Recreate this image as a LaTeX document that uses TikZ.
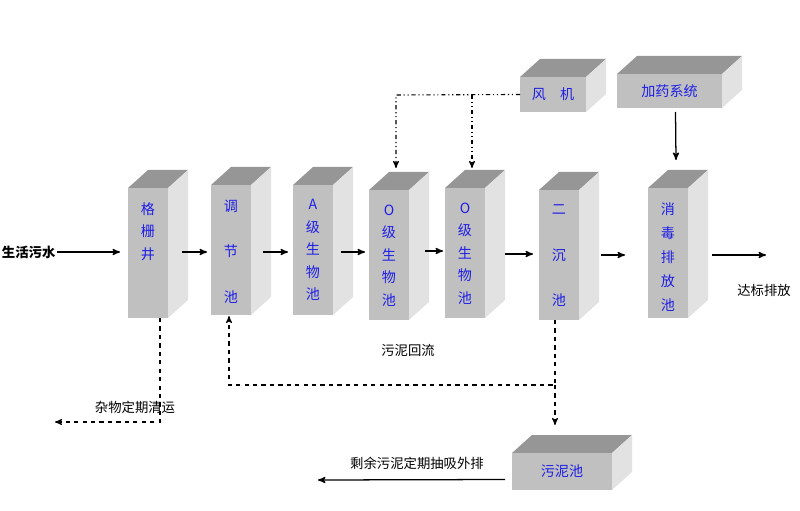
\documentclass[tikz,border=0pt]{standalone}
\usepackage{fontspec}
\newfontfamily\cjk{Noto Sans CJK SC}
\usetikzlibrary{arrows,positioning,calc}
\definecolor{frontgray}{RGB}{192,192,192}
\definecolor{topgray}{RGB}{150,150,150}
\definecolor{sidegray}{RGB}{226,226,226}
\definecolor{tankblue}{RGB}{30,30,230}

% #1 name, #2 left, #3 top, #4 width, #5 height
\newcommand\tank[5]{
  \fill[topgray] (#2,#3) -- ++(20,-18) -- ++(#4,0) -- ++(-20,18) -- cycle;
  \fill[sidegray] (#2+#4,#3) -- ++(20,-18) -- ++(0,#5) -- ++(-20,18) -- cycle;
  \node[tank box, minimum width=#4*0.025cm, minimum height=#5*0.025cm,
    anchor=north west] (#1) at (#2,#3) {};
}

\begin{document}
\begin{tikzpicture}[x=0.025cm,y=-0.025cm,>=stealth',thick,
  tank box/.style={fill=frontgray,draw=none,inner sep=0pt,outer sep=0pt},
  tank text/.style={font=\cjk\fontsize{10}{16}\selectfont,text=tankblue,align=center,anchor=north,inner sep=0pt},
  note/.style={font=\cjk\fontsize{9.5}{11}\selectfont,inner sep=1pt},
  flow/.style={->,line width=0.9pt},
  air/.style={->,line width=0.8pt,dash dot dot},
  sludge/.style={->,line width=0.8pt,dashed}]

\useasboundingbox (0,0) rectangle (800,511);

\tank{grid}{128}{188}{40}{130}
\tank{adjust}{211}{185}{40}{130}
\tank{atank}{293}{185}{40}{130}
\tank{oone}{369}{190}{40}{130}
\tank{otwo}{445}{188}{40}{130}
\tank{settle}{539}{190}{40}{130}
\tank{disinf}{648}{188}{40}{130}
\tank{fan}{520}{77}{66}{35}
\tank{dose}{617}{74}{105}{34}
\tank{mud}{512}{453}{100}{37}

\node[tank text] at ([yshift=-10pt]grid.north) {格\\栅\\井};
\node[tank text,font=\cjk\fontsize{10}{32.5}\selectfont] at ([yshift=-10pt]adjust.north) {调\\节\\池};
\node[tank text] at ([yshift=-10pt]atank.north) {A\\级\\生\\物\\池};
\node[tank text] at ([yshift=-10pt]oone.north) {O\\级\\生\\物\\池};
\node[tank text] at ([yshift=-10pt]otwo.north) {O\\级\\生\\物\\池};
\node[tank text,font=\cjk\fontsize{10}{32.5}\selectfont] at ([yshift=-10pt]settle.north) {二\\沉\\池};
\node[tank text,font=\cjk\fontsize{10}{17}\selectfont] at ([yshift=-10pt]disinf.north) {消\\毒\\排\\放\\池};
\node[tank text,anchor=center] at (fan.center) {风\hspace{1em}机};
\node[tank text,anchor=center] at (dose.center) {加药系统};
\node[tank text,anchor=center] at (mud.center) {污泥池};

\node[note,font=\cjk\bfseries\fontsize{9.5}{11}\selectfont,anchor=west] (inlet) at (0,252) {生活污水};
\node[note] (outlet) at (764,290) {达标排放};
\node[note] (backflow) at (408,350) {污泥回流};
\node[note] (waste) at (135,407) {杂物定期清运};
\node[note] (pump) at (417,463) {剩余污泥定期抽吸外排};

\coordinate (inend) at (120,252);
\coordinate (outend) at (766,255);
\coordinate (wasteend) at (55,422);
\coordinate (mudend) at (318,480);

% main flow
\draw[flow] (inlet.east) -- (inend);
\draw[flow] ($(grid.east)+(14,-1)$) coordinate (a) -- ($(a -| adjust.west)+(-4,0)$);
\draw[flow] ($(adjust.east)+(12,2)$) coordinate (a) -- ($(a -| atank.west)+(-5,0)$);
\draw[flow] ($(atank.east)+(8,2)$) coordinate (a) -- ($(a -| oone.west)+(-4,0)$);
\draw[flow] ($(oone.east)+(16,-4)$) coordinate (a) -- ($(a -| otwo.west)+(-2,0)$);
\draw[flow] ($(otwo.east)+(20,1)$) coordinate (a) -- ($(a -| settle.west)+(-6,0)$);
\draw[flow] ($(settle.east)+(22,0)$) coordinate (a) -- ($(a -| disinf.west)+(-23,0)$);
\draw[flow] ($(disinf.east)+(24,2)$) -- (outend);
\draw[flow] ($(dose.south)+(6,4)$) -- ($(disinf.north)+(8,-28)$);

% air supply
\draw[air] (fan.west) -- (396,95) -- ($(oone.north)+(7,-22)$);
\draw[air] (472,95) -- ($(otwo.north)+(7,-20)$);

% sludge lines
\draw[sludge] ($(grid.south)+(12,0)$) -- (160,422) -- (wasteend);
\draw[sludge] ($(settle.south)+(-4,0)$) -- (555,385) -- (229,385) -- ($(adjust.south)+(-2,1)$);
\draw[sludge] (555,385) -- ($(mud.north)+(-7,-28)$);
\draw[flow] ($(mud.west)+(-7,8)$) -- (mudend);
\end{tikzpicture}
\end{document}
